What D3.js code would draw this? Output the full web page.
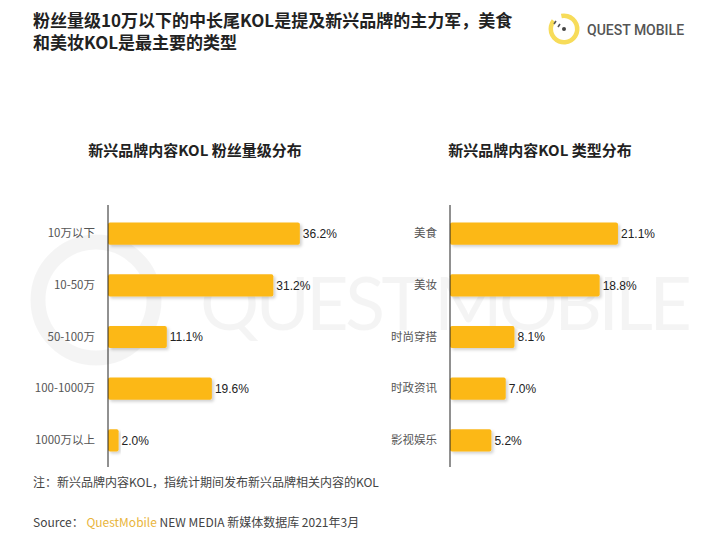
<!DOCTYPE html>
<html>
<head>
<meta charset="utf-8">
<script src="https://cdn.jsdelivr.net/npm/d3@7"></script>
<style>
  body { margin: 0; background: #fff; }
  svg { display: block; font-family: "Noto Sans CJK SC", "Noto Sans", sans-serif; }
</style>
</head>
<body>
<svg id="chart" width="720" height="540"></svg>
<script>
// data
const fanLevels = ["10万以下", "10-50万", "50-100万", "100-1000万", "1000万以上"];
const fanShares = [36.2, 31.2, 11.1, 19.6, 2.0];
const kolTypes = ["美食", "美妆", "时尚穿搭", "时政资讯", "影视娱乐"];
const typeShares = [21.1, 18.8, 8.1, 7.0, 5.2];

const barColor = "#fcb817";
const svg = d3.select("#chart");

// shadow for the bars
const defs = svg.append("defs");
const shadow = defs.append("filter").attr("id", "shadow")
  .attr("x", "-10%").attr("y", "-20%").attr("width", "130%").attr("height", "160%");
shadow.append("feDropShadow")
  .attr("dx", 2).attr("dy", 2).attr("stdDeviation", 1.5)
  .attr("flood-color", "#000").attr("flood-opacity", 0.18);

// faint watermark behind the charts
const wm = svg.append("g").attr("opacity", 0.04);
wm.append("circle").attr("cx", 96).attr("cy", 300).attr("r", 58)
  .attr("fill", "none").attr("stroke", "#000").attr("stroke-width", 15);
wm.append("text").attr("x", 200).attr("y", 330)
  .attr("font-family", "Lato, 'Open Sans', sans-serif")
  .attr("font-size", 74).attr("font-weight", 400).attr("fill", "#000")
  .attr("textLength", 492)
  .text("QUEST MOBILE");

// title
svg.append("text").attr("x", 33).attr("y", 27)
  .attr("font-size", 17).attr("font-weight", 700).attr("fill", "#222")
  .text("粉丝量级10万以下的中长尾KOL是提及新兴品牌的主力军，美食");
svg.append("text").attr("x", 33).attr("y", 49)
  .attr("font-size", 17).attr("font-weight", 700).attr("fill", "#222")
  .text("和美妆KOL是最主要的类型");

// logo
const logo = svg.append("g").attr("transform", "translate(564,29)");
logo.append("path")
  .attr("d", d3.arc().innerRadius(11).outerRadius(15.5)
    .startAngle(-0.2).endAngle(Math.PI * 2 - 0.9)())
  .attr("fill", "#f7dc5a");
logo.append("circle").attr("r", 2).attr("fill", "#444");
logo.append("path").attr("d", "M-10,-5 L-8,-8 M-6,-2 L-4,-5")
  .attr("stroke", "#555").attr("stroke-width", 1.6);
svg.append("text").attr("x", 587).attr("y", 35)
  .attr("font-family", "Roboto, sans-serif").attr("font-size", 14)
  .attr("font-weight", 500).attr("fill", "#555")
  .text("QUEST MOBILE");

// one horizontal bar chart
function drawBars(cats, vals, axisX, pxPerPct, title, titleX) {
  const g = svg.append("g");
  const y = d3.scaleBand().domain(cats).range([207, 467])
    .paddingInner(0.57).paddingOuter(0.3);
  const x = d3.scaleLinear().domain([0, 10]).range([axisX, axisX + pxPerPct * 10]);
  const rows = cats.map((c, i) => ({ cat: c, val: vals[i] }));

  g.append("text").attr("x", titleX).attr("y", 156)
    .attr("text-anchor", "middle").attr("font-size", 15)
    .attr("font-weight", 700).attr("fill", "#222")
    .text(title);

  g.selectAll("rect.bar").data(rows).join("rect")
    .attr("class", "bar")
    .attr("x", x(0))
    .attr("y", (d) => y(d.cat))
    .attr("width", (d) => x(d.val) - x(0))
    .attr("height", y.bandwidth())
    .attr("rx", 2)
    .attr("fill", barColor)
    .attr("filter", "url(#shadow)");

  g.selectAll("text.val").data(rows).join("text")
    .attr("class", "val")
    .attr("x", (d) => x(d.val) + 3)
    .attr("y", (d) => y(d.cat) + y.bandwidth() / 2)
    .attr("dy", "0.35em")
    .attr("font-family", "'Liberation Sans', Arial, sans-serif")
    .attr("font-size", 12).attr("fill", "#222")
    .text((d) => d.val.toFixed(1) + "%");

  // category axis on the left
  const axis = g.append("g").attr("transform", "translate(" + axisX + ",0)")
    .call(d3.axisLeft(y).tickSize(0).tickPadding(13));
  axis.select(".domain").attr("stroke", "#222").attr("d", "M0,205V467");
  axis.selectAll("text").attr("font-size", 11.5).attr("fill", "#555")
    .attr("font-family", "'Noto Sans CJK SC', sans-serif");
}

drawBars(fanLevels, fanShares, 108, 5.3, "新兴品牌内容KOL 粉丝量级分布", 195);
drawBars(kolTypes, typeShares, 450, 7.96, "新兴品牌内容KOL 类型分布", 540);

// footnotes
svg.append("text").attr("x", 33).attr("y", 487)
  .attr("font-size", 12).attr("fill", "#444")
  .text("注：新兴品牌内容KOL，指统计期间发布新兴品牌相关内容的KOL");
const src = svg.append("text").attr("x", 33).attr("y", 527)
  .attr("font-size", 12).attr("fill", "#444");
src.append("tspan").text("Source： ");
src.append("tspan").attr("fill", "#e9b53c").text("QuestMobile");
src.append("tspan").text(" NEW MEDIA 新媒体数据库 2021年3月");
</script>
</body>
</html>
